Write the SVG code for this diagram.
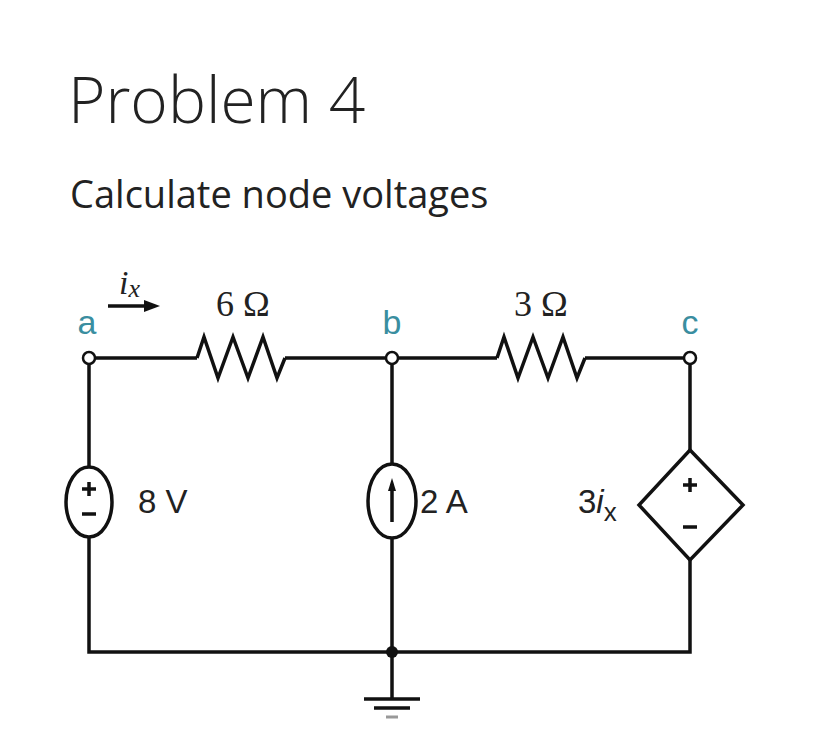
<svg xmlns="http://www.w3.org/2000/svg" width="824" height="733" viewBox="0 0 824 733">
<style>
.w{stroke:#111;stroke-width:3.5;fill:none;stroke-linejoin:miter}
.n{fill:#fff;stroke:#111;stroke-width:2.5}
.lbl{font-family:"Liberation Sans Narrow","Liberation Sans",sans-serif;font-size:34px;fill:#3a8ea0;text-anchor:middle}
.val{font-family:"Liberation Sans Narrow","Liberation Sans",sans-serif;font-size:33px;fill:#222}
.om{font-family:"Liberation Serif",serif;font-size:36px;fill:#222;text-anchor:middle}
.t{font-family:"Open Sans",sans-serif;fill:#222}
</style>
<rect width="824" height="733" fill="#fff"/>
<text class="t" x="68" y="123" font-size="64" font-weight="300">Problem 4</text>
<text class="t" x="70" y="208" font-size="38">Calculate node voltages</text>
<g id="connectors">
<path class="w" d="M89 358 H197 M285 358 H392 H497 M585 358 H690"/>
<path class="w" d="M89 358 V467 M89 537 V652 H690 V560 M690 450 V358 M392 358 V464 M392 538 V699"/>
<path class="w" d="M108 306 H148"/>
<polygon points="160,306 144,300 144,312" fill="#111"/>
</g>
<g id="r6"><path class="w" d="M197 358 L204 337 L218 378 L233 337 L248 378 L263 337 L277 378 L285 358"/><text class="om" x="243" y="316">6 Ω</text></g>
<g id="r3"><path class="w" d="M497 358 L504 337 L518 378 L533 337 L548 378 L563 337 L577 378 L585 358"/><text class="om" x="541" y="316">3 Ω</text></g>
<g id="ix"><text x="119" y="294" font-family="Liberation Serif,serif" font-style="italic" font-size="34" fill="#222">i<tspan font-size="26" dy="3">x</tspan></text></g>
<g id="node-a"><circle class="n" cx="89" cy="358" r="6"/><text class="lbl" x="87" y="334">a</text></g>
<g id="node-b"><circle class="n" cx="392" cy="358" r="6"/><text class="lbl" x="392" y="334">b</text></g>
<g id="node-c"><circle class="n" cx="690" cy="358" r="6"/><text class="lbl" x="690" y="334">c</text></g>
<g id="v8"><ellipse class="w" cx="89" cy="502" rx="23" ry="35" fill="#fff"/>
<path class="w" stroke-width="2" d="M89 482 V496 M82 489 H96 M82 514 H96"/>
<text class="val" x="138" y="513">8 V</text></g>
<g id="i2"><ellipse class="w" cx="392" cy="501" rx="24" ry="37" fill="#fff"/>
<path class="w" stroke-width="2" d="M392 522 V484"/><polygon points="392,478 388,491 396,491" fill="#111"/>
<text class="val" x="420" y="513">2 A</text></g>
<g id="vdep"><polygon class="w" points="690,450 743,505 690,560 639,505" fill="#fff"/>
<path class="w" stroke-width="2" d="M690 478 V492 M683 485 H697 M683 527 H697"/>
<text class="val" x="578" y="513">3<tspan font-style="italic">i</tspan><tspan font-size="26" dy="8">x</tspan></text></g>
<g id="ground"><circle cx="392" cy="652" r="6" fill="#111"/>
<path class="w" stroke-width="4" d="M364 699 H420 M374 708 H410"/><path stroke="#999" stroke-width="3" d="M386 717 H398"/></g>
</svg>
